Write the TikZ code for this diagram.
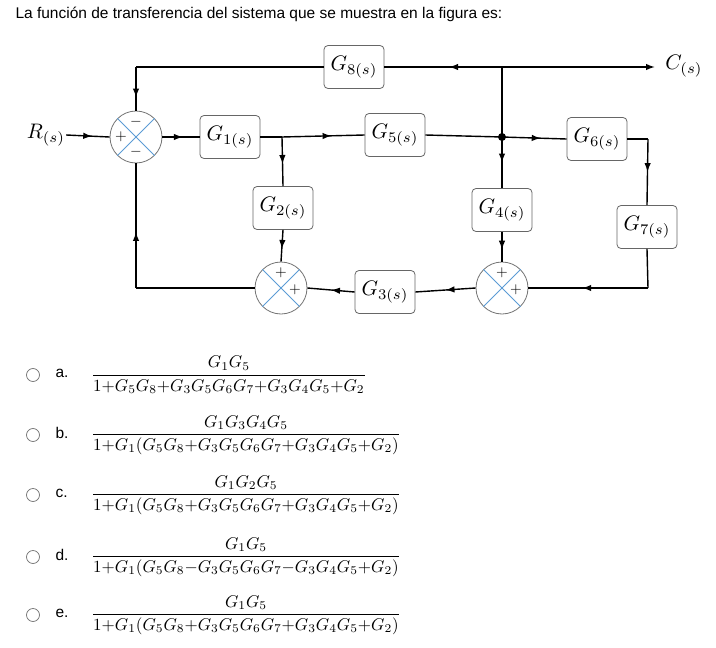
\documentclass[tikz,border=0pt]{standalone}
\usepackage{amsmath}
\usepackage{graphicx}
\usepackage{fontspec}
\setmainfont{Liberation Sans}
\usetikzlibrary{decorations.markings,arrows.meta}
\definecolor{xb}{RGB}{91,155,213}
\newcommand{\bm}[2]{\scalebox{#1}{$#2$}}
\begin{document}
\begin{tikzpicture}[x=1pt,y=-1pt,
  blk/.style={draw=black!60,rounded corners=4pt,minimum width=60pt,minimum height=43pt,fill=white,line width=0.8pt,inner sep=1pt},
  sum/.style={circle,draw=black!55,minimum size=52pt,inner sep=0pt,line width=0.8pt},
  ln/.style={line width=1.4pt},
  mid/.style={ln,postaction={decorate},decoration={markings,mark=at position #1 with {\arrow{Latex[length=9pt,width=6.5pt]}}}},
  mid/.default=0.5,
  endarr/.style={ln,-{Latex[length=9pt,width=6.5pt]}},
  sg/.style={inner sep=0pt}]
\useasboundingbox (0,0) rectangle (716,648);
\node[anchor=west,font=\fontsize{15.5}{18}\selectfont] (title) at (12,14) {La función de transferencia del sistema que se muestra en la figura es:};
% blocks
\node[blk] (g1) at (230,137) {\bm{2.1}{G_{1(s)}}};
\node[blk] (g2) at (283,208) {\bm{2.1}{G_{2(s)}}};
\node[blk] (g3) at (385,292) {\bm{2.1}{G_{3(s)}}};
\node[blk] (g4) at (502,210) {\bm{2.1}{G_{4(s)}}};
\node[blk] (g5) at (395,135) {\bm{2.1}{G_{5(s)}}};
\node[blk] (g6) at (597,139) {\bm{2.1}{G_{6(s)}}};
\node[blk] (g7) at (647,227) {\bm{2.1}{G_{7(s)}}};
\node[blk] (g8) at (354,67) {\bm{2.1}{G_{8(s)}}};
% sums
\node[sum] (s1) at (136,137) {};
\node[sum] (s2) at (281,288) {};
\node[sum] (s3) at (502,288) {};
\foreach \s in {s1,s2,s3}{
  \draw[xb,line width=0.8pt] (\s.north west) -- (\s.south east) (\s.north east) -- (\s.south west);}
\node[sg] at ([xshift=-15pt]s1.center) {\bm{1.5}{+}};
\node[sg] at ([yshift=15pt]s1.center) {\bm{1.5}{-}};
\node[sg] at ([yshift=-15pt]s1.center) {\bm{1.5}{-}};
\node[sg] at ([yshift=15pt]s2.center) {\bm{1.5}{+}};
\node[sg] at ([xshift=14pt,yshift=-2pt]s2.center) {\bm{1.5}{+}};
\node[sg] at ([yshift=15pt]s3.center) {\bm{1.5}{+}};
\node[sg] at ([xshift=14pt,yshift=-2pt]s3.center) {\bm{1.5}{+}};
% labels
\node[inner sep=1pt] (r) at (46,135) {\bm{2.1}{R_{(s)}}};
\node[inner sep=1pt] (c) at (684,66) {\bm{2.1}{C_{(s)}}};
\coordinate (jn) at (502,137);
\coordinate (jt) at (502,67);
\coordinate (b1) at (282,137);
\coordinate (tl) at (136,67);
\coordinate (bl) at (136,288);
\coordinate (rt) at (648,139);
\coordinate (rb) at (648,288);
\coordinate (ce) at (655,67);
% connections
\draw[mid=0.6] (r.east) -- (s1.west);
\draw[mid=0.55] (s1.east) -- (g1.west);
\draw[ln] (g1.east) -- (b1);
\draw[mid=0.6] (b1) -- (g5.west);
\draw[mid=0.55] (b1) -- (g2.north);
\draw[mid=0.6] (g2.south) -- (s2.north);
\draw[ln] (g5.east) -- (jn);
\draw[mid=0.6] (jn) -- (g6.west);
\draw[ln] (g6.east) -| (rt);
\draw[mid=0.5] (rt) -- (g7.north);
\draw[ln] (g7.south) -- (rb);
\draw[mid=0.55] (rb) -- (s3.east);
\draw[mid=0.5] (jn) -- (g4.north);
\draw[mid=0.6] (g4.south) -- (s3.north);
\draw[mid=0.5] (s3.west) -- (g3.east);
\draw[mid=0.5] (g3.west) -- (s2.east);
\draw[ln] (s2.west) -- (bl);
\draw[mid=0.45] (bl) -- (s1.south);
\draw[ln] (jn) -- (jt);
\draw[endarr] (jt) -- (ce);
\draw[mid=0.45] (jt) -- (g8.east);
\draw[ln] (g8.west) -- (tl);
\draw[mid=0.7] (tl) -- (s1.north);
\fill (jn) circle (4pt);
% answers
\foreach \y/\l/\n/\d in {
 375/a./G_1G_5/1{+}G_5G_8{+}G_3G_5G_6G_7{+}G_3G_4G_5{+}G_2,
 435/b./G_1G_3G_4G_5/1{+}G_1(G_5G_8{+}G_3G_5G_6G_7{+}G_3G_4G_5{+}G_2),
 495/c./G_1G_2G_5/1{+}G_1(G_5G_8{+}G_3G_5G_6G_7{+}G_3G_4G_5{+}G_2),
 557/d./G_1G_5/1{+}G_1(G_5G_8{-}G_3G_5G_6G_7{-}G_3G_4G_5{+}G_2),
 615/e./G_1G_5/1{+}G_1(G_5G_8{+}G_3G_5G_6G_7{+}G_3G_4G_5{+}G_2)}{
 \draw[black!55,line width=0.7pt] (33,\y) circle (6.5pt);
 \node[anchor=west,font=\fontsize{15.5}{18}\selectfont] at (52,\y-2) {\l};
 \node[anchor=west,inner sep=0pt] at (91,\y) {\scalebox{1.7}{$\dfrac{\n}{\d}$}};
}
\end{tikzpicture}
\end{document}
